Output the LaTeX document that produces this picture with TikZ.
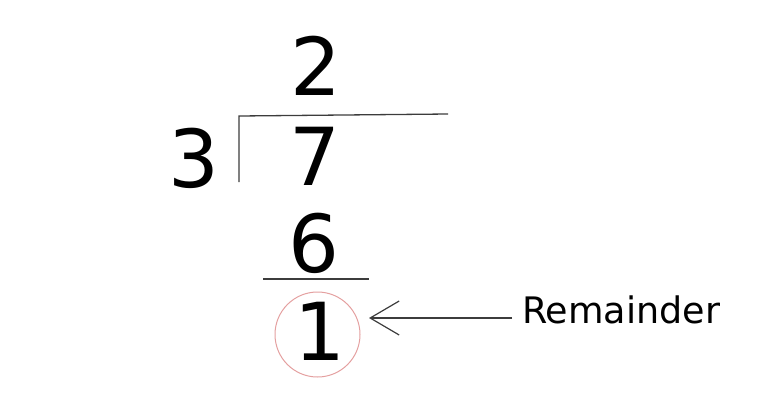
\documentclass[tikz,border=0pt]{standalone}
\usepackage{fontspec}
\setmainfont{DejaVu Sans}
\usetikzlibrary{arrows.meta}
\definecolor{linegray}{RGB}{60,60,60}
\definecolor{ringpink}{RGB}{228,160,160}

\begin{document}
\begin{tikzpicture}[x=1pt, y=-1pt,
    digit/.style={inner sep=0pt, anchor=base, font=\fontsize{80}{96}\selectfont},
    label/.style={inner sep=0pt, anchor=base west, font=\fontsize{36.5}{42}\selectfont},
    rule/.style={draw=linegray, line width=1.3pt},
    ring/.style={circle, draw=ringpink, line width=1pt, minimum size=85pt, inner sep=0pt},
    pointer/.style={draw=linegray, line width=1.2pt, -{Straight Barb[length=29pt, width=34pt]}}]

    \useasboundingbox (0,0) rectangle (763,402);

    %nodes
    \node[digit] (quot) at (316,95) {2};
    \node[digit] (divisor) at (193.5,187) {3};
    \node[digit] (dividend) at (315,185) {7};
    \node[digit] (prod) at (313.5,272) {6};
    \node[digit] (rest) at (319.5,360) {1};
    \node[ring] (circ) at (317.5,334.5) {};
    \node[label] (rem) at (522,323) {Remainder};
    \coordinate (tail) at (512,318);
    \coordinate (tip) at (369,318);

    % lines
    \draw[rule] (239,182) -- (239,116) -- (448,114);
    \draw[rule] (263,279) -- (369,279);

    % edges
    \draw[pointer] (tail) -- (tip);

\end{tikzpicture}
\end{document}
